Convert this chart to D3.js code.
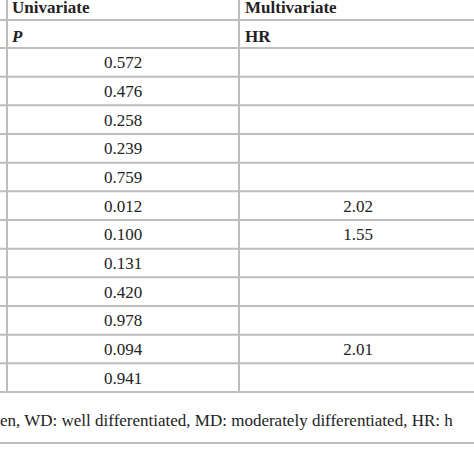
<!DOCTYPE html>
<html><head><meta charset="utf-8">
<script src="https://cdn.jsdelivr.net/npm/d3@7"></script>
<style>body{margin:0;background:#fff} text{font-family:"Liberation Serif","DejaVu Serif",serif}</style>
</head><body>
<svg id="t" width="474" height="474"></svg>
<script>
var pValues = ["0.572","0.476","0.258","0.239","0.759","0.012","0.100","0.131","0.420","0.978","0.094","0.941"];
var hrValues = ["","","","","","2.02","1.55","","","","2.01",""];
var footnote = "en, WD: well differentiated, MD: moderately differentiated, HR: h";

var svg = d3.select("#t"),
    fs = 17,
    lineCol = "#bdbdbd";

var y = d3.scaleLinear().domain([0, pValues.length]).range([48, 392]);
var rowH = y(1) - y(0);

// horizontal rules
var rules = [20].concat(d3.range(pValues.length + 1).map(function(i) { return y(i); }));
svg.selectAll("line.h").data(rules).enter().append("line")
    .attr("x1", 0).attr("x2", 474)
    .attr("y1", function(d) { return d; }).attr("y2", function(d) { return d; })
    .attr("stroke", lineCol).attr("stroke-width", 2);

// vertical rules
[7, 239].forEach(function(x) {
    svg.append("line").attr("x1", x).attr("x2", x).attr("y1", 0).attr("y2", 392)
        .attr("stroke", lineCol).attr("stroke-width", 2);
});

// headers
function label(x, yy, s) {
    return svg.append("text").attr("x", x).attr("y", yy).text(s)
        .attr("font-size", fs).attr("font-weight", "bold").attr("fill", "#222");
}
label(12, 13, "Univariate");
label(245, 13, "Multivariate");
label(12, 42, "P").attr("font-style", "italic");
label(245, 42, "HR");

// cells
svg.selectAll("text.p").data(pValues).enter().append("text")
    .attr("x", 123).attr("y", function(d, i) { return y(i) + rowH / 2 + 6; })
    .attr("text-anchor", "middle").attr("font-size", fs).attr("fill", "#222")
    .text(function(d) { return d; });
svg.selectAll("text.hr").data(hrValues).enter().append("text")
    .attr("x", 358).attr("y", function(d, i) { return y(i) + rowH / 2 + 6; })
    .attr("text-anchor", "middle").attr("font-size", fs).attr("fill", "#222")
    .text(function(d) { return d; });

// footnote
svg.append("text").attr("x", 0).attr("y", 426).text(footnote)
    .attr("font-size", fs).attr("fill", "#222");
svg.append("line").attr("x1", 0).attr("x2", 474).attr("y1", 443).attr("y2", 443)
    .attr("stroke", lineCol).attr("stroke-width", 2);
</script>
</body></html>
